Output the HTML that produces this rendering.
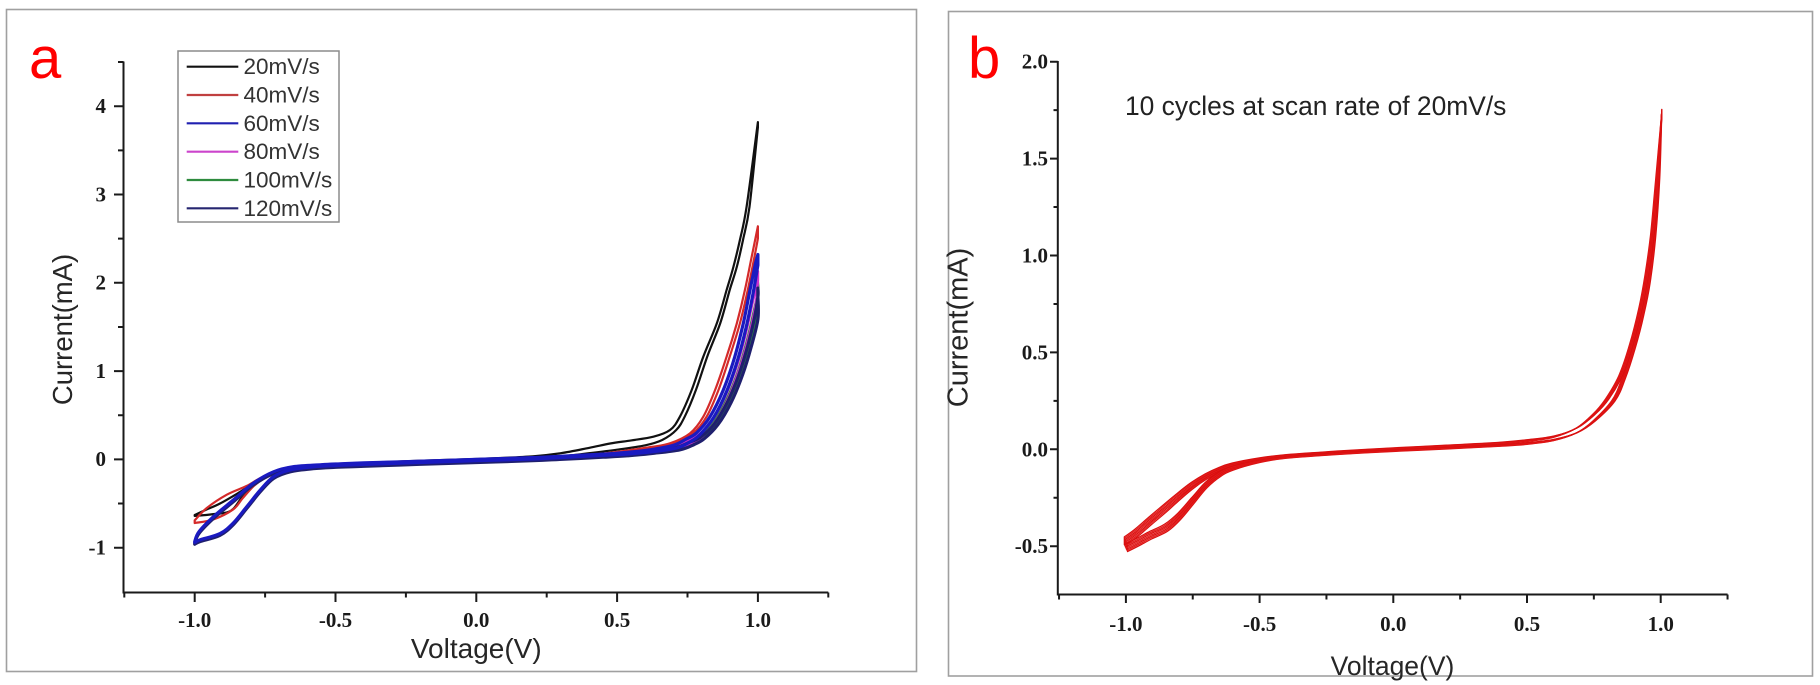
<!DOCTYPE html>
<html><head><meta charset="utf-8">
<style>
html,body{margin:0;padding:0;background:#fff;}
svg{display:block;}
.tl{font-family:"Liberation Serif",serif;font-weight:bold;fill:#1a1a1a;}
.ti{font-family:"Liberation Sans",sans-serif;fill:#262626;}
.lg{font-family:"Liberation Sans",sans-serif;fill:#333;font-size:22.5px;}
</style></head>
<body>
<svg id="s" width="1820" height="685" viewBox="0 0 1820 685" xmlns="http://www.w3.org/2000/svg">
<rect x="0" y="0" width="1820" height="685" fill="#fff"/>
<rect x="6.5" y="9.5" width="910" height="662" fill="none" stroke="#a0a0a0" stroke-width="1.6"/>
<rect x="948.5" y="11.5" width="864" height="664.5" fill="none" stroke="#a0a0a0" stroke-width="1.6"/>

<text x="29" y="78" font-family="Liberation Sans, sans-serif" font-size="58" fill="#ff0000">a</text>
<text x="968" y="78" font-family="Liberation Sans, sans-serif" font-size="58" fill="#ff0000">b</text>

<!-- Panel a axes -->
<path d="M123.5 61.5V593.5M122.5 592.5H828.3
M123.5 106.2H114M123.5 194.5H114M123.5 282.8H114M123.5 371.1H114M123.5 459.4H114M123.5 547.7H114
M123.5 62.05H118M123.5 150.35H118M123.5 238.65H118M123.5 326.95H118M123.5 415.25H118M123.5 503.55H118
M194.7 592.5V602M335.5 592.5V602M476.3 592.5V602M617.1 592.5V602M757.9 592.5V602
M124.3 592.5V597.5M265.1 592.5V597.5M405.9 592.5V597.5M546.7 592.5V597.5M687.5 592.5V597.5M828.3 592.5V597.5"
 stroke="#1a1a1a" stroke-width="2" fill="none"/>
<g class="tl" font-size="21" text-anchor="end">
<text x="106" y="113">4</text>
<text x="106" y="201.3">3</text>
<text x="106" y="289.6">2</text>
<text x="106" y="377.9">1</text>
<text x="106" y="466.2">0</text>
<text x="106" y="554.5">-1</text>
</g>
<g class="tl" font-size="21" text-anchor="middle">
<text x="194.7" y="627">-1.0</text>
<text x="335.5" y="627">-0.5</text>
<text x="476.3" y="627">0.0</text>
<text x="617.1" y="627">0.5</text>
<text x="757.9" y="627">1.0</text>
</g>
<text class="ti" x="476.3" y="658" font-size="28" text-anchor="middle">Voltage(V)</text>
<text class="ti" transform="translate(72,329.5) rotate(-90)" font-size="27.5" text-anchor="middle">Current(mA)</text>

<!-- Legend -->
<rect x="178" y="51" width="161" height="171" fill="#fff" stroke="#8c8c8c" stroke-width="1.5"/>
<g stroke-width="2.2">
<line x1="186.7" y1="66.7" x2="238.3" y2="66.7" stroke="#111"/>
<line x1="186.7" y1="95" x2="238.3" y2="95" stroke="#c04040"/>
<line x1="186.7" y1="123.3" x2="238.3" y2="123.3" stroke="#2020b0"/>
<line x1="186.7" y1="151.7" x2="238.3" y2="151.7" stroke="#cc44cc"/>
<line x1="186.7" y1="180" x2="238.3" y2="180" stroke="#2e8b3e"/>
<line x1="186.7" y1="208.3" x2="238.3" y2="208.3" stroke="#262670"/>
</g>
<g class="lg">
<text x="243.5" y="74.2">20mV/s</text>
<text x="243.5" y="102.5">40mV/s</text>
<text x="243.5" y="130.8">60mV/s</text>
<text x="243.5" y="159.2">80mV/s</text>
<text x="243.5" y="187.5">100mV/s</text>
<text x="243.5" y="215.8">120mV/s</text>
</g>

<!-- Panel b axes -->
<path d="M1057.8 61V595.5M1057 594.5H1727.6
M1057.8 61.7H1050M1057.8 158.6H1050M1057.8 255.5H1050M1057.8 352.4H1050M1057.8 449.3H1050M1057.8 546.2H1050
M1057.8 110.15H1053.5M1057.8 207.05H1053.5M1057.8 303.95H1053.5M1057.8 400.85H1053.5M1057.8 497.75H1053.5
M1125.9 594.5V603M1259.6 594.5V603M1393.3 594.5V603M1527 594.5V603M1660.7 594.5V603
M1059.05 594.5V599.5M1192.75 594.5V599.5M1326.45 594.5V599.5M1460.15 594.5V599.5M1593.85 594.5V599.5M1727.55 594.5V599.5"
 stroke="#1a1a1a" stroke-width="2" fill="none"/>
<g class="tl" font-size="21" text-anchor="end">
<text x="1048" y="68.7">2.0</text>
<text x="1048" y="165.6">1.5</text>
<text x="1048" y="262.5">1.0</text>
<text x="1048" y="359.4">0.5</text>
<text x="1048" y="456.3">0.0</text>
<text x="1048" y="553.2">-0.5</text>
</g>
<g class="tl" font-size="21" text-anchor="middle">
<text x="1125.9" y="631">-1.0</text>
<text x="1259.6" y="631">-0.5</text>
<text x="1393.3" y="631">0.0</text>
<text x="1527" y="631">0.5</text>
<text x="1660.7" y="631">1.0</text>
</g>
<text class="ti" x="1392.5" y="675" font-size="26.5" text-anchor="middle">Voltage(V)</text>
<text class="ti" transform="translate(967.5,327.5) rotate(-90)" font-size="29" text-anchor="middle">Current(mA)</text>
<text x="1125" y="115" font-family="Liberation Sans, sans-serif" font-size="26.4" fill="#222">10 cycles at scan rate of 20mV/s</text>

<g id="ga" fill="none" stroke-linejoin="round" stroke-linecap="round"></g>
<g id="gb" fill="none" stroke-linejoin="round" stroke-linecap="round"></g>
</svg>
<script>
(function(){
var NS="http://www.w3.org/2000/svg";
function cr(p){var d='M'+p[0][0].toFixed(1)+' '+p[0][1].toFixed(1);
 for(var i=0;i<p.length-1;i++){var p0=p[i-1]||p[i],p1=p[i],p2=p[i+1],p3=p[i+2]||p[i+1];
  var c1x=p1[0]+(p2[0]-p0[0])/6,c1y=p1[1]+(p2[1]-p0[1])/6,c2x=p2[0]-(p3[0]-p1[0])/6,c2y=p2[1]-(p3[1]-p1[1])/6;
  d+='C'+c1x.toFixed(1)+' '+c1y.toFixed(1)+' '+c2x.toFixed(1)+' '+c2y.toFixed(1)+' '+p2[0].toFixed(1)+' '+p2[1].toFixed(1);}
 return d;}
function add(g,d,col,w,op){var e=document.createElementNS(NS,'path');e.setAttribute('d',d);e.setAttribute('stroke',col);e.setAttribute('stroke-width',w);if(op)e.setAttribute('stroke-opacity',op);g.appendChild(e);}
function loop(b1,b2,X,Y){var a=b1.map(function(p){return [X(p[0]),Y(p[1])];});var b=b2.slice().reverse().map(function(p){return [X(p[0]),Y(p[1])];});return cr(a)+'L'+b[0][0].toFixed(1)+' '+b[0][1].toFixed(1)+cr(b).replace(/^M[^C]*/,'')+'Z';}

/* Panel a */
var XA=function(v){return 476.3+281.6*v;},YA=function(i){return 459.4-88.3*i;};
var ga=document.getElementById('ga');
var K1=[[-1,-0.63],[-0.96,-0.57],[-0.91,-0.50],[-0.84,-0.37],[-0.80,-0.29],[-0.75,-0.20],[-0.70,-0.135],[-0.65,-0.10],[-0.6,-0.08],[-0.5,-0.055],[-0.4,-0.04],[-0.2,-0.015],[0,0.005],[0.2,0.035],[0.3,0.07],[0.4,0.13],[0.475,0.18],[0.55,0.215],[0.629,0.257],[0.688,0.333],[0.723,0.484],[0.765,0.786],[0.806,1.163],[0.854,1.54],[0.889,1.918],[0.913,2.18],[0.936,2.485],[0.96,2.862],[1.0,3.82]];
var K2=[[-1,-0.64],[-0.96,-0.63],[-0.934,-0.62],[-0.886,-0.60],[-0.86,-0.55],[-0.83,-0.42],[-0.79,-0.29],[-0.75,-0.20],[-0.70,-0.145],[-0.65,-0.11],[-0.6,-0.09],[-0.5,-0.065],[-0.4,-0.05],[-0.2,-0.025],[0,-0.005],[0.2,0.015],[0.3,0.035],[0.4,0.07],[0.5,0.11],[0.6,0.16],[0.66,0.22],[0.71,0.333],[0.74,0.484],[0.78,0.786],[0.82,1.163],[0.866,1.54],[0.90,1.918],[0.925,2.18],[0.947,2.485],[0.97,2.86],[1.0,3.76]];
var R1=[[-1,-0.69],[-0.957,-0.55],[-0.886,-0.40],[-0.815,-0.30],[-0.76,-0.20],[-0.70,-0.14],[-0.65,-0.105],[-0.6,-0.085],[-0.5,-0.06],[-0.3,-0.035],[0,0.0],[0.2,0.02],[0.4,0.05],[0.534,0.1],[0.62,0.14],[0.688,0.182],[0.759,0.296],[0.806,0.484],[0.848,0.786],[0.889,1.163],[0.925,1.54],[0.954,1.918],[0.978,2.296],[1.0,2.64]];
var R2=[[-1,-0.72],[-0.934,-0.68],[-0.863,-0.565],[-0.83,-0.44],[-0.79,-0.30],[-0.75,-0.21],[-0.70,-0.15],[-0.65,-0.115],[-0.6,-0.095],[-0.5,-0.07],[-0.3,-0.045],[0,-0.01],[0.2,0.01],[0.4,0.035],[0.534,0.08],[0.64,0.13],[0.70,0.18],[0.77,0.296],[0.818,0.484],[0.86,0.786],[0.90,1.163],[0.936,1.54],[0.964,1.918],[0.988,2.296],[1.0,2.5]];
var B1=[[-1,-0.93],[-0.985,-0.82],[-0.934,-0.65],[-0.863,-0.46],[-0.792,-0.27],[-0.72,-0.14],[-0.65,-0.083],[-0.55,-0.06],[-0.484,-0.05],[-0.4,-0.04],[-0.2,-0.02],[0,0.0],[0.2,0.02],[0.297,0.035],[0.45,0.06],[0.534,0.08],[0.62,0.11],[0.70,0.16],[0.745,0.23],[0.782,0.30],[0.83,0.484],[0.877,0.786],[0.918,1.163],[0.948,1.54],[0.972,1.918],[0.99,2.2],[1.0,2.32]];
var B2=[[-1,-0.94],[-0.98,-0.91],[-0.91,-0.84],[-0.863,-0.72],[-0.815,-0.535],[-0.768,-0.35],[-0.72,-0.196],[-0.661,-0.12],[-0.58,-0.085],[-0.5,-0.07],[-0.4,-0.058],[-0.2,-0.035],[0,-0.015],[0.2,0.005],[0.297,0.02],[0.45,0.045],[0.534,0.06],[0.62,0.085],[0.712,0.13],[0.76,0.2],[0.794,0.28],[0.842,0.47],[0.889,0.77],[0.930,1.15],[0.960,1.52],[0.984,1.90],[1.0,2.2]];
function scl(br,k,dv,di){return br.map(function(p){var w=Math.max(0,Math.min(1,(p[0]-0.5)/0.3));var v=p[0]+dv*w;if(v>1.0)v=1.0;return [v,p[1]*(1-(1-k)*w)+di*(1-w)];});}
add(ga,loop(K1,K2,XA,YA),'#111',2.2);
add(ga,loop(R1,R2,XA,YA),'#d42a2a',2.2);
add(ga,loop(scl(B1,2.0/2.32,0.012,-0.01),scl(B2,2.0/2.32,0.012,-0.01),XA,YA),'#2e8b3e',2.6);
add(ga,loop(scl(B1,2.13/2.32,0.008,0.0),scl(B2,2.13/2.32,0.008,0.0),XA,YA),'#cc33cc',2.6);
add(ga,loop(scl(B1,1.94/2.32,0.016,-0.02),scl(B2,1.94/2.32,0.016,-0.02),XA,YA),'#1f1f6e',3.2);
add(ga,loop(B1,B2,XA,YA),'#1a1ac0',3.2);

/* Panel b */
var XB=function(v){return 1393.3+267.4*v;},YB=function(i){return 449.3-193.8*i;};
var gb=document.getElementById('gb');
var U=[[-1.0,-0.47],[-0.96,-0.43],[-0.91,-0.37],[-0.85,-0.30],[-0.80,-0.24],[-0.75,-0.185],[-0.70,-0.14],[-0.65,-0.105],[-0.60,-0.08],[-0.5,-0.05],[-0.4,-0.032],[-0.2,-0.013],[0,0.003],[0.2,0.017],[0.4,0.032],[0.5,0.045],[0.6,0.065],[0.686,0.11],[0.75,0.18],[0.80,0.26],[0.85,0.38],[0.89,0.54],[0.925,0.73],[0.948,0.90],[0.968,1.10],[0.985,1.35],[1.004,1.75]];
var L=[[-1.0,-0.51],[-0.95,-0.475],[-0.91,-0.445],[-0.85,-0.405],[-0.80,-0.345],[-0.75,-0.265],[-0.70,-0.185],[-0.65,-0.13],[-0.60,-0.097],[-0.5,-0.062],[-0.4,-0.042],[-0.2,-0.022],[0,-0.007],[0.2,0.006],[0.4,0.02],[0.5,0.03],[0.6,0.048],[0.686,0.085],[0.75,0.145],[0.823,0.25],[0.86,0.36],[0.898,0.52],[0.93,0.69],[0.954,0.86],[0.975,1.10],[0.99,1.40],[1.004,1.72]];
function var_(br,c){var f=c-3;return br.map(function(p){var v=p[0],i=p[1];var wl=Math.max(0,Math.min(1,(-0.45-v)/0.4));var wr=Math.max(0,Math.min(1,(v-0.55)/0.25));if(v>1)wr=0;var wm=Math.max(0,1-wl-wr);return [v+f*0.0022*wr-f*0.002*wl,i+f*0.006*wl+f*0.0015*wm];});}
for(var c=0;c<7;c++){add(gb,loop(var_(U,c),var_(L,c),XB,YB),c%2?'#e41a1a':'#d80f0f',1.2);}
})();
</script>
</body></html>
